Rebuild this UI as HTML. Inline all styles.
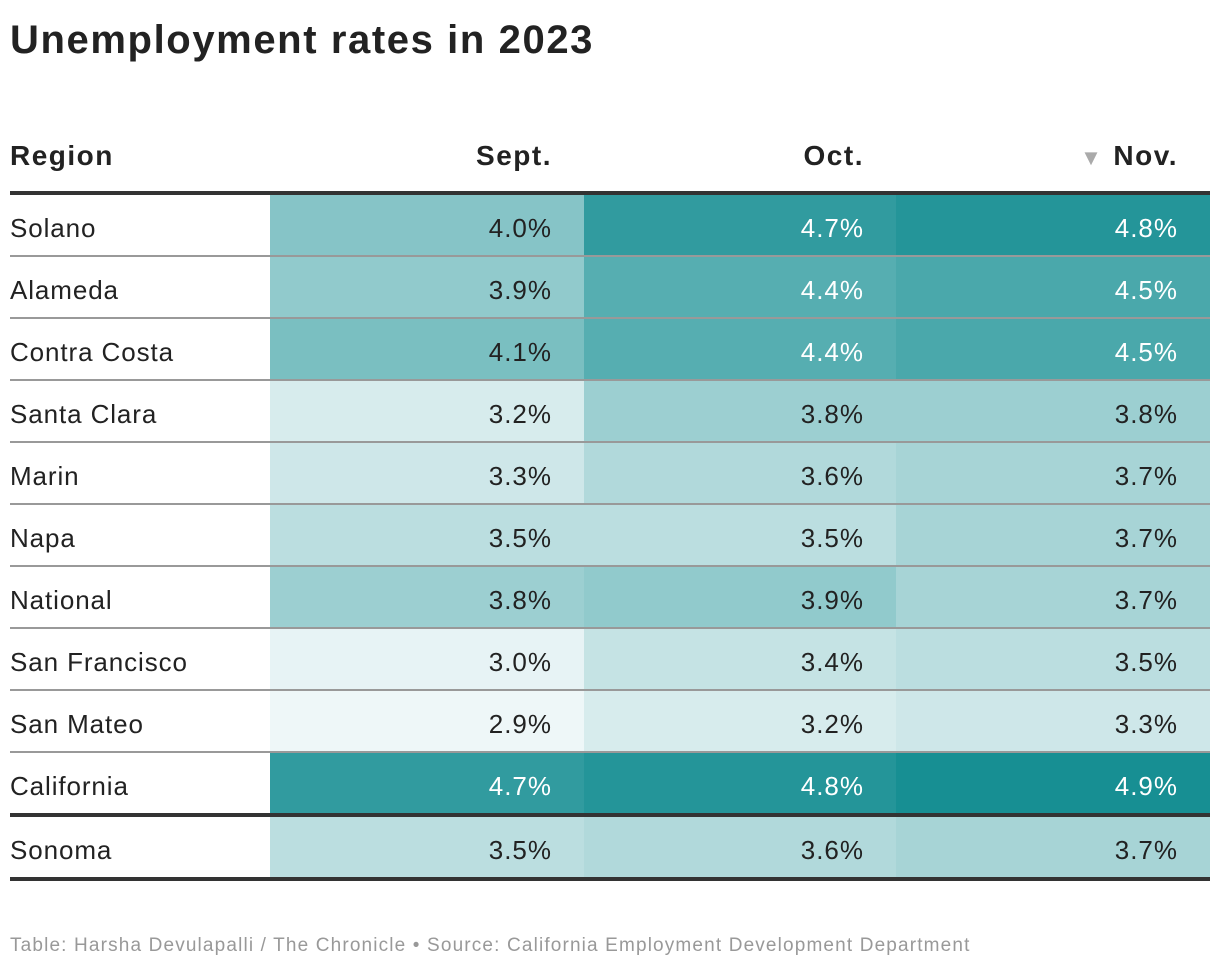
<!DOCTYPE html>
<html><head><meta charset="utf-8"><style>
body{margin:0;width:1220px;height:974px;background:#fff;font-family:"Liberation Sans",sans-serif;color:#222;position:relative;overflow:hidden}
.t{position:absolute}
.title{left:10px;top:18px;font-size:40px;font-weight:bold;color:#222;letter-spacing:1.6px}
.hd{top:140px;font-size:28px;font-weight:bold;color:#222;letter-spacing:1.5px}
.cell{position:absolute;height:60px;line-height:66px;font-size:26px;text-align:right;box-sizing:border-box;padding-right:32px;letter-spacing:1px}
.reg{position:absolute;height:60px;line-height:66px;font-size:26px;left:10px;color:#222;letter-spacing:0.9px}
.line{position:absolute;left:10px;width:1200px}
.foot{left:10px;top:935px;font-size:19px;color:#999;letter-spacing:1.15px}
</style></head><body>
<div class="t title">Unemployment rates in 2023</div>
<div class="t hd" style="left:10px">Region</div>
<div class="t hd" style="left:270px;width:282px;text-align:right">Sept.</div>
<div class="t hd" style="left:584px;width:280px;text-align:right">Oct.</div>
<div class="t hd" style="left:896px;width:282px;text-align:right"><span style="color:#aaa;font-size:22px;margin-right:10px">▼</span>Nov.</div>
<div class="line" style="top:191px;height:4px;background:#333"></div>
<div id="tbl"></div>
<div class="t foot">Table: Harsha Devulapalli / The Chronicle • Source: California Employment Development Department</div>
<script>
const regions=["Solano","Alameda","Contra Costa","Santa Clara","Marin","Napa","National","San Francisco","San Mateo","California","Sonoma"];
const sept=[4.0,3.9,4.1,3.2,3.3,3.5,3.8,3.0,2.9,4.7,3.5];
const oct=[4.7,4.4,4.4,3.8,3.6,3.5,3.9,3.4,3.2,4.8,3.6];
const nov=[4.8,4.5,4.5,3.8,3.7,3.7,3.7,3.5,3.3,4.9,3.7];
const cols=[[sept,270,314],[oct,584,312],[nov,896,314]];
function color(v){let t=Math.max(0,Math.min(1,(v-2.8)/2.1));t=Math.pow(t,1.25);
const a=[243,249,250],b=[23,143,147];return `rgb(${a.map((x,i)=>Math.round(x+(b[i]-x)*t)).join(',')})`;}
const tb=document.getElementById('tbl');
regions.forEach((r,i)=>{
  const top=195+i*62+(i>=10?2:0);
  const rd=document.createElement('div');rd.className='reg';rd.style.top=top+'px';rd.textContent=r;
  
  
  tb.appendChild(rd);
  cols.forEach(([arr,x,w])=>{
    const v=arr[i];const c=document.createElement('div');c.className='cell';
    c.style.cssText+=`left:${x}px;width:${w}px;top:${top}px;background:${color(v)};color:${v>=4.2?'#fff':'#222'}`;
    c.textContent=v.toFixed(1)+'%';
    
    
    tb.appendChild(c);
  });
  const ln=document.createElement('div');ln.className='line';
  const thick=(i===9||i===10);
  ln.style.top=(top+60)+'px';ln.style.height=(thick?4:2)+'px';ln.style.background=thick?'#333':'#999';
  
  
  tb.appendChild(ln);
});
</script>
</body></html>
